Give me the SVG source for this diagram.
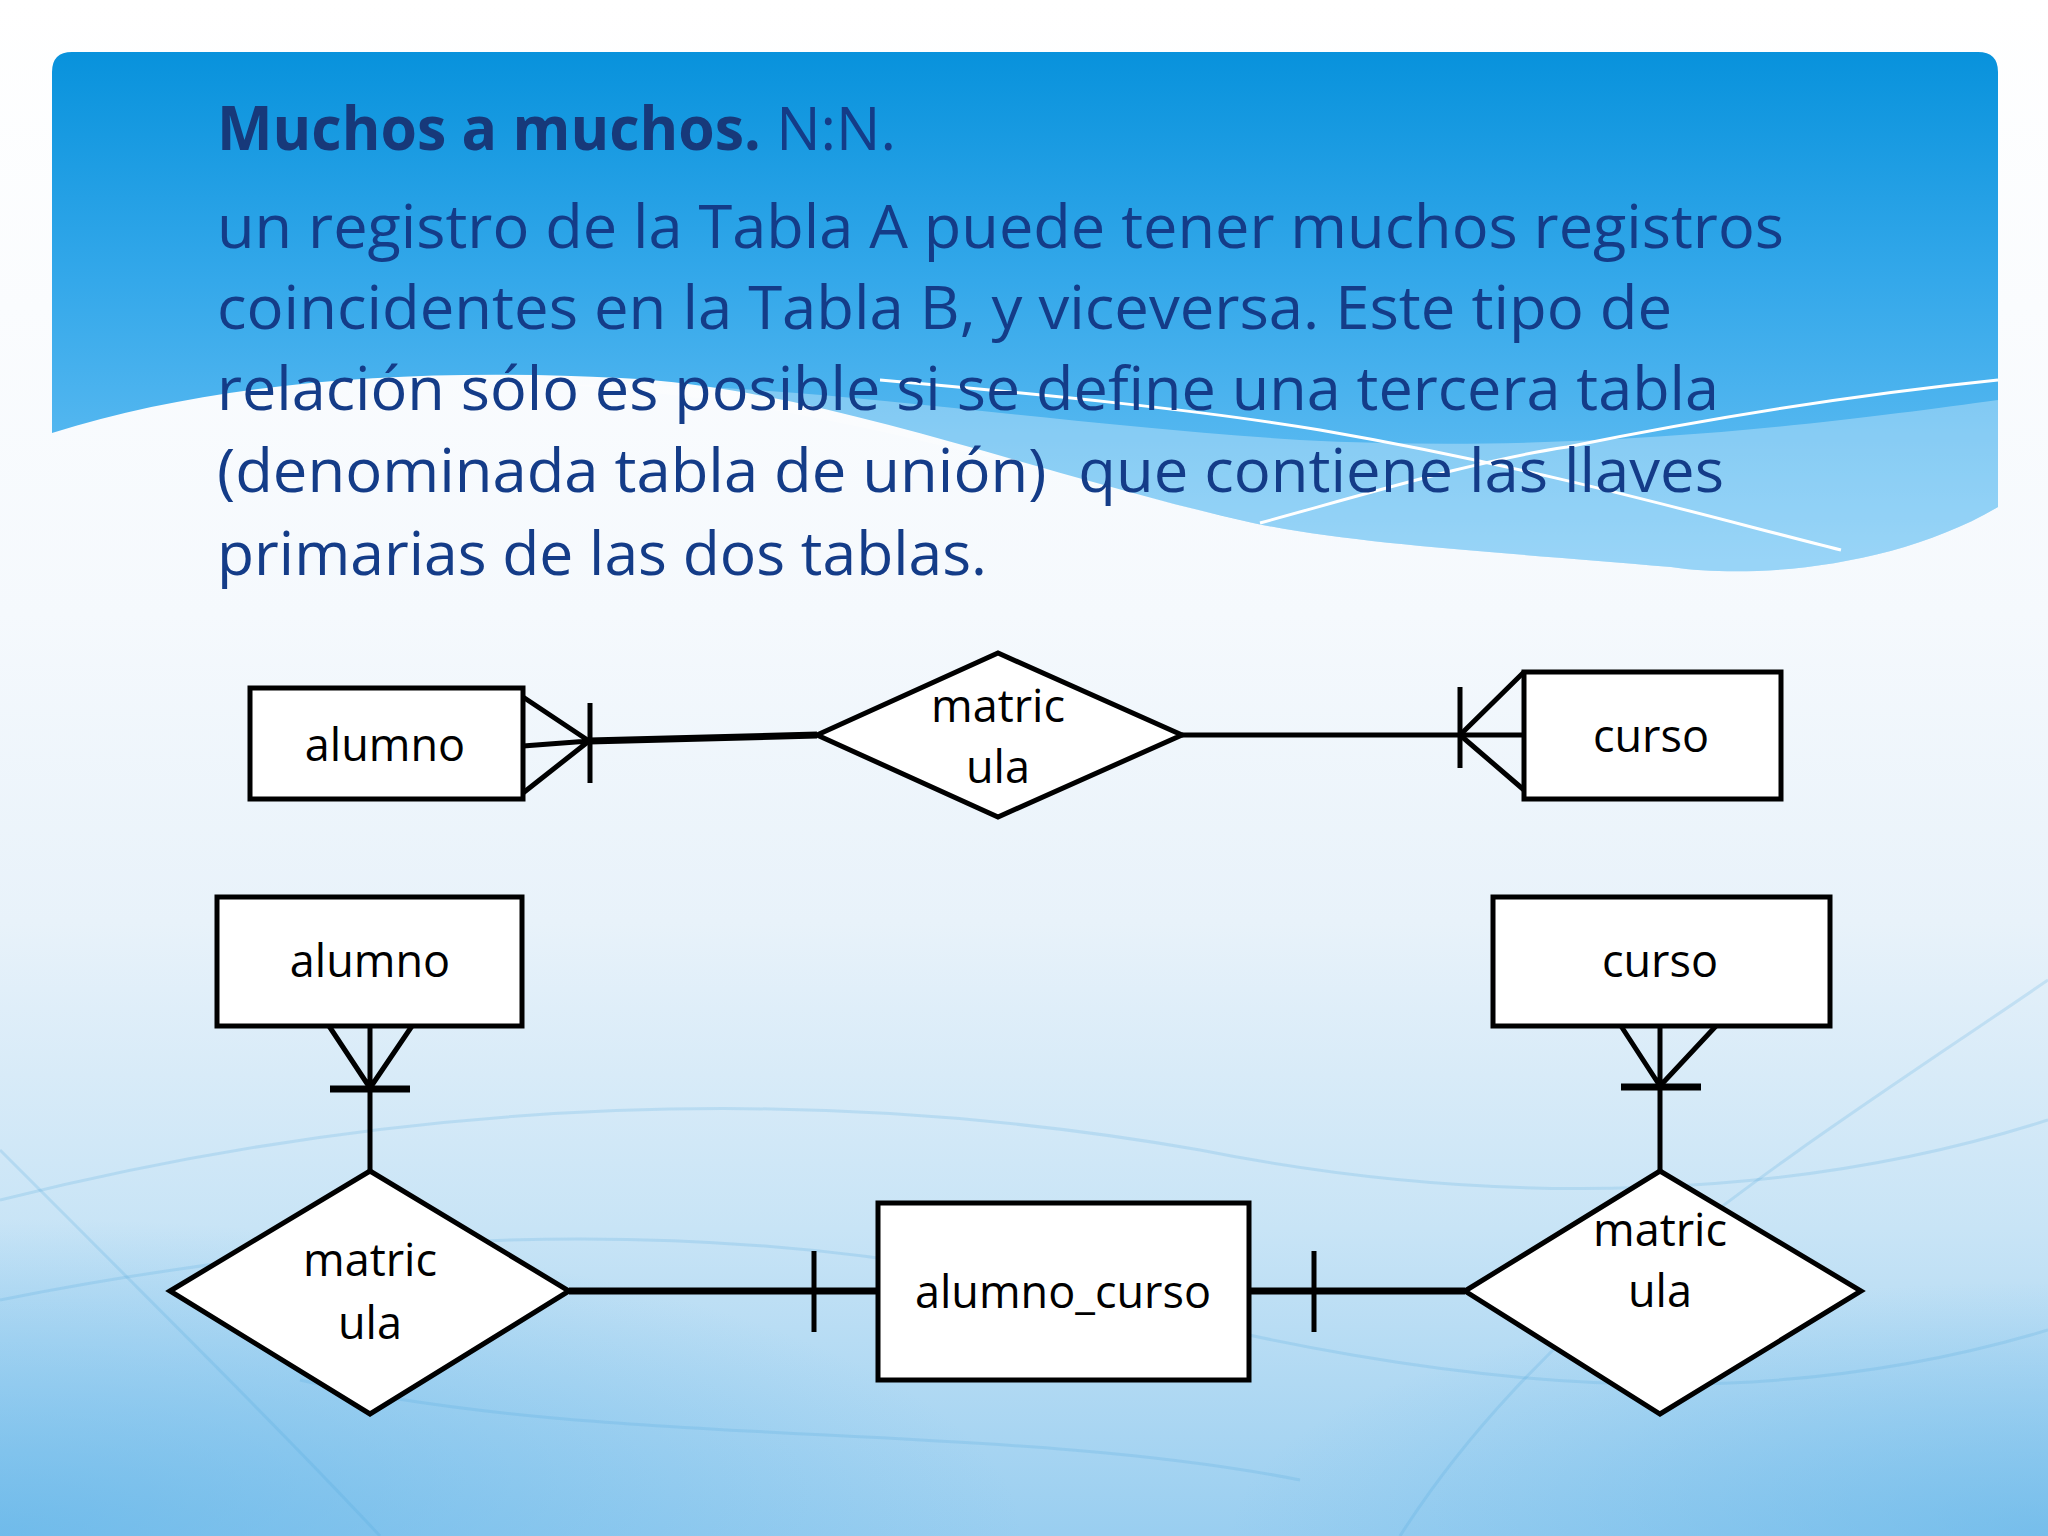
<svg xmlns="http://www.w3.org/2000/svg" width="2048" height="1536" viewBox="0 0 2048 1536">
<defs>
<linearGradient id="bg" x1="0" y1="0" x2="0" y2="1">
<stop offset="0" stop-color="#ffffff"/>
<stop offset="0.4" stop-color="#f5f9fd"/>
<stop offset="0.6" stop-color="#e8f2fa"/>
<stop offset="0.8" stop-color="#c8e4f6"/>
<stop offset="1" stop-color="#99cef0"/>
</linearGradient>
<radialGradient id="corner" cx="0" cy="1" r="0.5">
<stop offset="0" stop-color="#5eb3e8" stop-opacity="0.7"/>
<stop offset="1" stop-color="#5eb3e8" stop-opacity="0"/>
</radialGradient>
<radialGradient id="corner2" cx="1" cy="1" r="0.4">
<stop offset="0" stop-color="#5eb3e8" stop-opacity="0.6"/>
<stop offset="1" stop-color="#5eb3e8" stop-opacity="0"/>
</radialGradient>
<linearGradient id="panel" x1="0" y1="52" x2="0" y2="560" gradientUnits="userSpaceOnUse">
<stop offset="0" stop-color="#0892dc"/>
<stop offset="0.45" stop-color="#34a8ea"/>
<stop offset="1" stop-color="#6cc2f4"/>
</linearGradient>
<style>
.txt{font-family:"Open Sans","Noto Sans",sans-serif;fill:#143c88}
.lbl{font-family:"Open Sans","Noto Sans",sans-serif;font-size:45px;fill:#000;text-anchor:middle}
.shape{fill:#fff;stroke:#000;stroke-width:5}
.ln{stroke:#000;stroke-width:5;fill:none;stroke-linecap:butt}
.thick{stroke:#000;stroke-width:7;fill:none}
</style>
</defs>
<rect x="0" y="0" width="2048" height="1536" fill="url(#bg)"/>
<rect x="0" y="900" width="2048" height="636" fill="url(#corner)"/>
<rect x="0" y="900" width="2048" height="636" fill="url(#corner2)"/>
<g fill="none" stroke="#4aa6dc" stroke-opacity="0.2" stroke-width="3">
<path d="M0,1300 C300,1240 700,1200 1100,1300 C1450,1390 1750,1420 2048,1330"/>
<path d="M0,1200 C400,1100 800,1080 1200,1150 C1500,1210 1800,1200 2048,1120"/>
<path d="M0,1150 C200,1350 300,1450 380,1536"/>
<path d="M2048,980 C1800,1150 1550,1300 1400,1536"/>
<path d="M300,1380 C600,1450 1000,1420 1300,1480"/>
</g>
<path d="M52,72 Q52,52 72,52 L1978,52 Q1998,52 1998,72 L1998,507 C1900,565 1760,580 1671,567 C1500,552 1360,545 1253,523 C1020,470 820,388 620,378 C420,368 220,380 52,433 Z" fill="url(#panel)"/>
<path d="M560,385 C800,380 1000,420 1300,440 C1600,455 1850,420 1998,400 L1998,507 C1900,565 1760,580 1671,567 C1500,552 1360,545 1253,523 C1020,470 820,400 560,385 Z" fill="#ffffff" fill-opacity="0.3"/>
<g fill="none" stroke="#ffffff" stroke-width="3">
<path d="M880,380 C1050,395 1200,410 1320,430 C1550,470 1720,520 1841,550"/>
<path d="M1260,523 C1380,490 1480,460 1567,447 C1750,410 1900,390 1998,380"/>
</g>
<g id="text">
<text class="txt" x="217" y="150" font-size="60" textLength="679" lengthAdjust="spacingAndGlyphs"><tspan font-weight="bold" fill="#17397a">Muchos a muchos.</tspan> N:N.</text>
<text class="txt" x="217" y="248" font-size="60" textLength="1567" lengthAdjust="spacingAndGlyphs">un registro de la Tabla A puede tener muchos registros</text>
<text class="txt" x="217" y="329" font-size="60" textLength="1455" lengthAdjust="spacingAndGlyphs">coincidentes en la Tabla B, y viceversa. Este tipo de</text>
<text class="txt" x="217" y="410" font-size="60" textLength="1502" lengthAdjust="spacingAndGlyphs">relación sólo es posible si se define una tercera tabla</text>
<text class="txt" x="217" y="492" font-size="60" textLength="1507" lengthAdjust="spacingAndGlyphs" xml:space="preserve">(denominada tabla de unión)  que contiene las llaves</text>
<text class="txt" x="217" y="575" font-size="60" textLength="770" lengthAdjust="spacingAndGlyphs">primarias de las dos tablas.</text>
</g>
<g id="connectors">
<path class="ln" d="M523,697 L589,741 M523,793 L589,741 M523,746 L589,741"/>
<path class="thick" d="M589,741 L817,735"/>
<path class="ln" d="M590,703 L590,783"/>
<path class="ln" d="M1182,735 L1524,735"/>
<path class="ln" d="M1460,687 L1460,768"/>
<path class="ln" d="M1460,735 L1524,672 M1460,735 L1524,790"/>
<path class="ln" d="M329,1026 L370,1088 M412,1026 L370,1088 M370,1026 L370,1171"/>
<path class="thick" d="M330,1089 L410,1089"/>
<path class="ln" d="M1621,1026 L1660,1086 M1716,1026 L1660,1086 M1660,1026 L1660,1171"/>
<path class="thick" d="M1621,1087 L1701,1087"/>
<path class="thick" d="M569,1291 L878,1291"/>
<path class="ln" d="M814,1251 L814,1332"/>
<path class="thick" d="M1249,1291 L1465,1291"/>
<path class="ln" d="M1314,1251 L1314,1332"/>
</g>
<g id="alumno1">
<rect class="shape" x="250" y="688" width="273" height="111"/>
<text class="lbl" x="385" y="761">alumno</text>
</g>
<g id="matricula1">
<polygon class="shape" points="817,735 998,653 1182,735 998,817"/>
<text class="lbl" x="998" y="722">matric</text>
<text class="lbl" x="998" y="783">ula</text>
</g>
<g id="curso1">
<rect class="shape" x="1524" y="672" width="257" height="127"/>
<text class="lbl" x="1651" y="752">curso</text>
</g>
<g id="alumno2">
<rect class="shape" x="217" y="897" width="305" height="129"/>
<text class="lbl" x="370" y="977">alumno</text>
</g>
<g id="curso2">
<rect class="shape" x="1493" y="897" width="337" height="129"/>
<text class="lbl" x="1660" y="977">curso</text>
</g>
<g id="matricula2">
<polygon class="shape" points="170,1291 370,1171 569,1291 370,1414"/>
<text class="lbl" x="370" y="1276">matric</text>
<text class="lbl" x="370" y="1339">ula</text>
</g>
<g id="alumno_curso">
<rect class="shape" x="878" y="1203" width="371" height="177"/>
<text class="lbl" x="1063" y="1308">alumno_curso</text>
</g>
<g id="matricula3">
<polygon class="shape" points="1465,1291 1660,1171 1861,1291 1660,1414"/>
<text class="lbl" x="1660" y="1246">matric</text>
<text class="lbl" x="1660" y="1307">ula</text>
</g>
</svg>
